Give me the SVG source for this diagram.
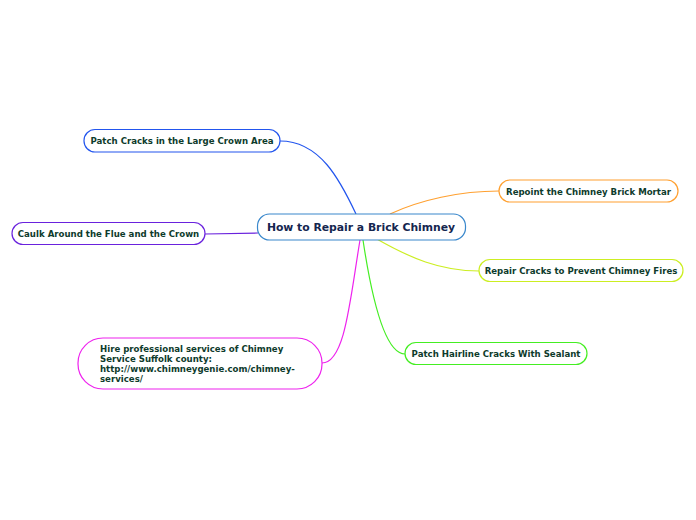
<svg xmlns="http://www.w3.org/2000/svg" width="696" height="520" viewBox="0 0 696 520">
<style>
.n{fill:#fff;stroke-width:1.2}
.t{font-family:"DejaVu Sans",Verdana,sans-serif;font-weight:bold;font-size:8.6px;fill:#0e3b2c}
.c{fill:none;stroke-width:1.2}
</style>
<rect width="696" height="520" fill="#fff"/>
<g id="connectors">
<path class="c" stroke="#2255ee" d="M280,141 C320,141 340,180 356,214"/>
<path class="c" stroke="#ffa030" d="M390,214 C420,200 460,191 499,191"/>
<path class="c" stroke="#6a22dd" d="M205,234 L258,233"/>
<path class="c" stroke="#ccee22" d="M375,238 C410,258 440,271 479,271"/>
<path class="c" stroke="#44ee22" d="M363,240 C372,300 385,354 405,354"/>
<path class="c" stroke="#ee22ee" d="M360,240 C350,300 345,363 322,363"/>
</g>
<g id="center"><rect class="n" x="257.5" y="214" width="208" height="26" rx="12" stroke="#3a88cc"/>
<text x="361" y="231" text-anchor="middle" font-family="DejaVu Sans,Verdana,sans-serif" font-weight="bold" font-size="10.8" fill="#14264f">How to Repair a Brick Chimney</text></g>
<g id="n1"><rect class="n" x="84" y="129.5" width="196" height="22.5" rx="11" stroke="#2255ee"/><text class="t" x="182" y="144" text-anchor="middle">Patch Cracks in the Large Crown Area</text></g>
<g id="n2"><rect class="n" x="499" y="180" width="179" height="22" rx="11" stroke="#ffa030"/><text class="t" x="588.5" y="194.5" text-anchor="middle">Repoint the Chimney Brick Mortar</text></g>
<g id="n3"><rect class="n" x="12" y="222.5" width="193" height="22" rx="11" stroke="#6a22dd"/><text class="t" x="108.5" y="237" text-anchor="middle">Caulk Around the Flue and the Crown</text></g>
<g id="n4"><rect class="n" x="479" y="259.5" width="204" height="22" rx="11" stroke="#ccee22"/><text class="t" x="581" y="274" text-anchor="middle">Repair Cracks to Prevent Chimney Fires</text></g>
<g id="n5"><rect class="n" x="405" y="342.5" width="182" height="22" rx="11" stroke="#44ee22"/><text class="t" x="496" y="357" text-anchor="middle">Patch Hairline Cracks With Sealant</text></g>
<g id="n6"><rect class="n" x="78" y="338" width="244" height="51" rx="25" stroke="#ee22ee"/>
<text class="t" x="100" y="351.5">Hire professional services of Chimney</text>
<text class="t" x="100" y="361.5">Service Suffolk county:</text>
<text class="t" x="100" y="371.5">http://www.chimneygenie.com/chimney-</text>
<text class="t" x="100" y="381.5">services/</text></g>
</svg>
